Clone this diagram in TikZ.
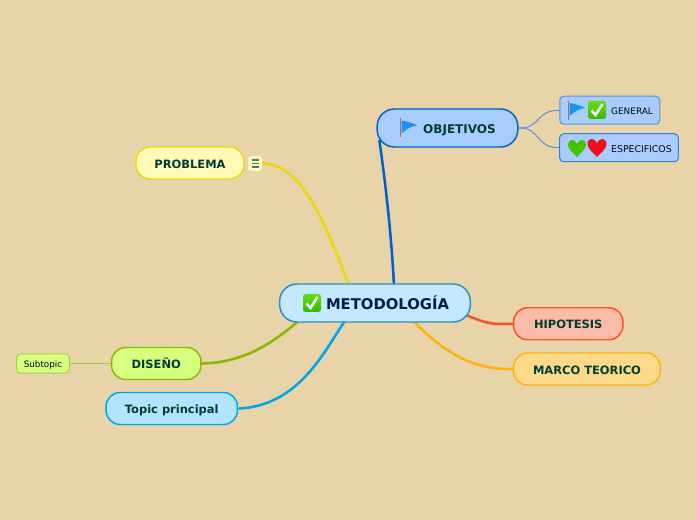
\documentclass[tikz,border=0pt]{standalone}
\usepackage{fontspec}
\setmainfont{DejaVu Sans}
\usetikzlibrary{calc}
\pgfdeclarelayer{paper}
\pgfdeclarelayer{links}
\pgfsetlayers{paper,links,main}
\definecolor{bgc}{RGB}{232,212,168}
\definecolor{inkg}{RGB}{0,60,48}
\definecolor{inkc}{RGB}{0,26,80}
\definecolor{cfill}{RGB}{196,232,255}\definecolor{cline}{RGB}{43,140,200}
\definecolor{ofill}{RGB}{169,204,255}\definecolor{oline}{RGB}{0,96,208}
\definecolor{pfill}{RGB}{255,250,184}\definecolor{pline}{RGB}{234,216,12}
\definecolor{dfill}{RGB}{214,255,128}\definecolor{dline}{RGB}{141,182,0}
\definecolor{tfill}{RGB}{176,228,255}\definecolor{tline}{RGB}{0,166,232}
\definecolor{hfill}{RGB}{251,187,168}\definecolor{hline}{RGB}{246,84,32}
\definecolor{mfill}{RGB}{255,217,138}\definecolor{mline}{RGB}{255,179,10}
\definecolor{gline}{RGB}{92,143,214}\definecolor{eline}{RGB}{45,127,216}
\definecolor{sline}{RGB}{168,204,68}
\definecolor{flagb}{RGB}{20,150,240}\definecolor{pole}{RGB}{165,110,80}
\definecolor{okt}{RGB}{100,222,20}\definecolor{okb}{RGB}{50,185,0}
\definecolor{hrtg}{RGB}{70,195,0}\definecolor{hrtr}{RGB}{238,16,32}
\tikzset{
  x=0.75pt,y=-0.75pt,
  topicbox/.style={draw,line width=1.1pt,rounded corners=10.5pt,font=\bfseries\fontsize{8.6}{11}\selectfont,
    text=inkg,inner sep=0pt,text height=7.8pt,text depth=0pt,minimum height=24pt},
  bigbox/.style={topicbox,minimum height=28.5pt,rounded corners=13pt},
  subbox/.style={draw,line width=.75pt,rounded corners=3pt,
    text=black!85!inkg,inner sep=0pt,text height=6.5pt,text depth=0pt},
  link/.style={line width=1.9pt,line cap=round},
  thin link/.style={line width=.75pt},
  flagicon/.pic={
    \draw[pole,line width=.9pt] (-8.5,-9.5) -- (-8.5,9.5);
    \fill[flagb] (-7.5,-7.5) .. controls (-3,-7) and (3,-5) .. (8.5,-2.5) .. controls (3,-2) and (-2,0) .. (-7.5,6) -- cycle;
  },
  checkicon/.pic={
    \shade[top color=okt,bottom color=okb,rounded corners=2pt] (-9,-9) rectangle (9,9);
    \draw[white,line width=1.9pt] (-5.5,0.5) -- (-1.5,5) -- (5.5,-6);
  },
  hearticon/.pic={
    \fill[pic actions] (0,9.5) .. controls (-4,5) and (-9.5,1.5) .. (-9.5,-3.5)
      .. controls (-9.5,-10) and (-2,-10) .. (0,-4.5)
      .. controls (2,-10) and (9.5,-10) .. (9.5,-3.5)
      .. controls (9.5,1.5) and (4,5) .. (0,9.5) -- cycle;
  },
}
\begin{document}
\begin{tikzpicture}
\begin{pgfonlayer}{paper}
\fill[bgc] (0,0) rectangle (696,520);
\end{pgfonlayer}
\useasboundingbox (0,0) rectangle (696,520);
\node[bigbox,draw=cline,fill=cfill,text=inkc,minimum width=143pt,text height=9.3pt,
  font=\bfseries\fontsize{11.1}{13}\selectfont] (center) at (375,303) {\hspace{18.75pt}METODOLOGÍA};
\node[bigbox,draw=oline,fill=ofill,minimum width=105.5pt,text height=8.1pt,
  font=\bfseries\fontsize{9}{11}\selectfont] (obj) at (447.5,128) {\hspace{18pt}OBJETIVOS};
\node[subbox,draw=gline,fill=ofill,minimum width=75pt,minimum height=21pt,font=\fontsize{6.7}{8}\selectfont] (gen) at (609.75,110.25) {\hspace{33.4pt}GENERAL};
\node[subbox,draw=eline,fill=ofill,minimum width=89pt,minimum height=21pt,font=\fontsize{7}{8}\selectfont] (esp) at (619,147.75) {\hspace{33.75pt}ESPECIFICOS};
\node[topicbox,draw=pline,fill=pfill,minimum width=81pt] (prob) at (190,163) {PROBLEMA};
\node[draw=none,fill=pfill,rounded corners=2pt,minimum width=10.5pt,minimum height=11pt,inner sep=0pt] (note) at (255,163.5) {};
\node[topicbox,draw=hline,fill=hfill,minimum width=82pt] (hip) at (568.25,323.75) {HIPOTESIS};
\node[topicbox,draw=mline,fill=mfill,minimum width=110pt] (mar) at (587,369) {MARCO TEORICO};
\node[topicbox,draw=dline,fill=dfill,minimum width=67pt] (dis) at (156.25,363.5) {DISEÑO};
\node[subbox,draw=sline,fill=dfill,minimum width=39.5pt,minimum height=14.5pt,font=\fontsize{6.6}{8}\selectfont] (sub) at (43,363.5) {Subtopic};
\node[topicbox,draw=tline,fill=tfill,minimum width=98.5pt] (top) at (171.75,408.5) {Topic principal};
\begin{pgfonlayer}{links}
\draw[link,oline] ($(center.north)+(19,2)$) .. controls ($(center.north)+(16,-55)$) and ($(obj.south west)+(8,28)$) .. ($(obj.south west)+(3,-7)$);
\draw[link,pline] (note.east) .. controls ($(note.east)+(40,0)$) and ($(center.north)+(-50,-60)$) .. ($(center.north)+(-26,2)$);
\draw[link,dline] (dis.east) .. controls ($(dis.east)+(45,-1)$) and ($(dis.east)+(72,-22)$) .. ($(center.south west)+(20,-2)$);
\draw[link,tline] ($(top.east)+(1,0)$) .. controls ($(top.east)+(60,-3)$) and ($(top.east)+(85,-55)$) .. ($(center.south west)+(66,-2)$);
\draw[link,hline] ($(center.south east)+(-6,-8)$) .. controls ($(center.south east)+(15,0)$) and ($(hip.west)+(-25,1)$) .. (hip.west);
\draw[link,mline] ($(center.south)+(38,-2)$) .. controls ($(center.south)+(65,25)$) and ($(mar.west)+(-45,1)$) .. (mar.west);
\draw[thin link,gline] (obj.east) .. controls ($(obj.east)+(22,1)$) and ($(gen.west)+(-24,0)$) .. (gen.west);
\draw[thin link,gline] (obj.east) .. controls ($(obj.east)+(22,-1)$) and ($(esp.west)+(-24,0)$) .. (esp.west);
\draw[thin link,sline] (sub.east) -- (dis.west);
\end{pgfonlayer}
\pic at (312,303) {checkicon};
\pic at (409,128) {flagicon};
\pic at (577,110.5) {flagicon};
\pic at (597,110) {checkicon};
\pic[fill=hrtg,scale=.95] at (577,148) {hearticon};
\pic[fill=hrtr] at (597,147.5) {hearticon};
\draw[inkg!70!white,line width=.8pt] ($(note.center)+(-3.5,-3.5)$) -- ($(note.center)+(3.5,-3.5)$)
  ($(note.center)+(-3.5,0)$) -- ($(note.center)+(3.5,0)$)
  ($(note.center)+(-3.5,3.5)$) -- ($(note.center)+(3.5,3.5)$);
\end{tikzpicture}
\end{document}
